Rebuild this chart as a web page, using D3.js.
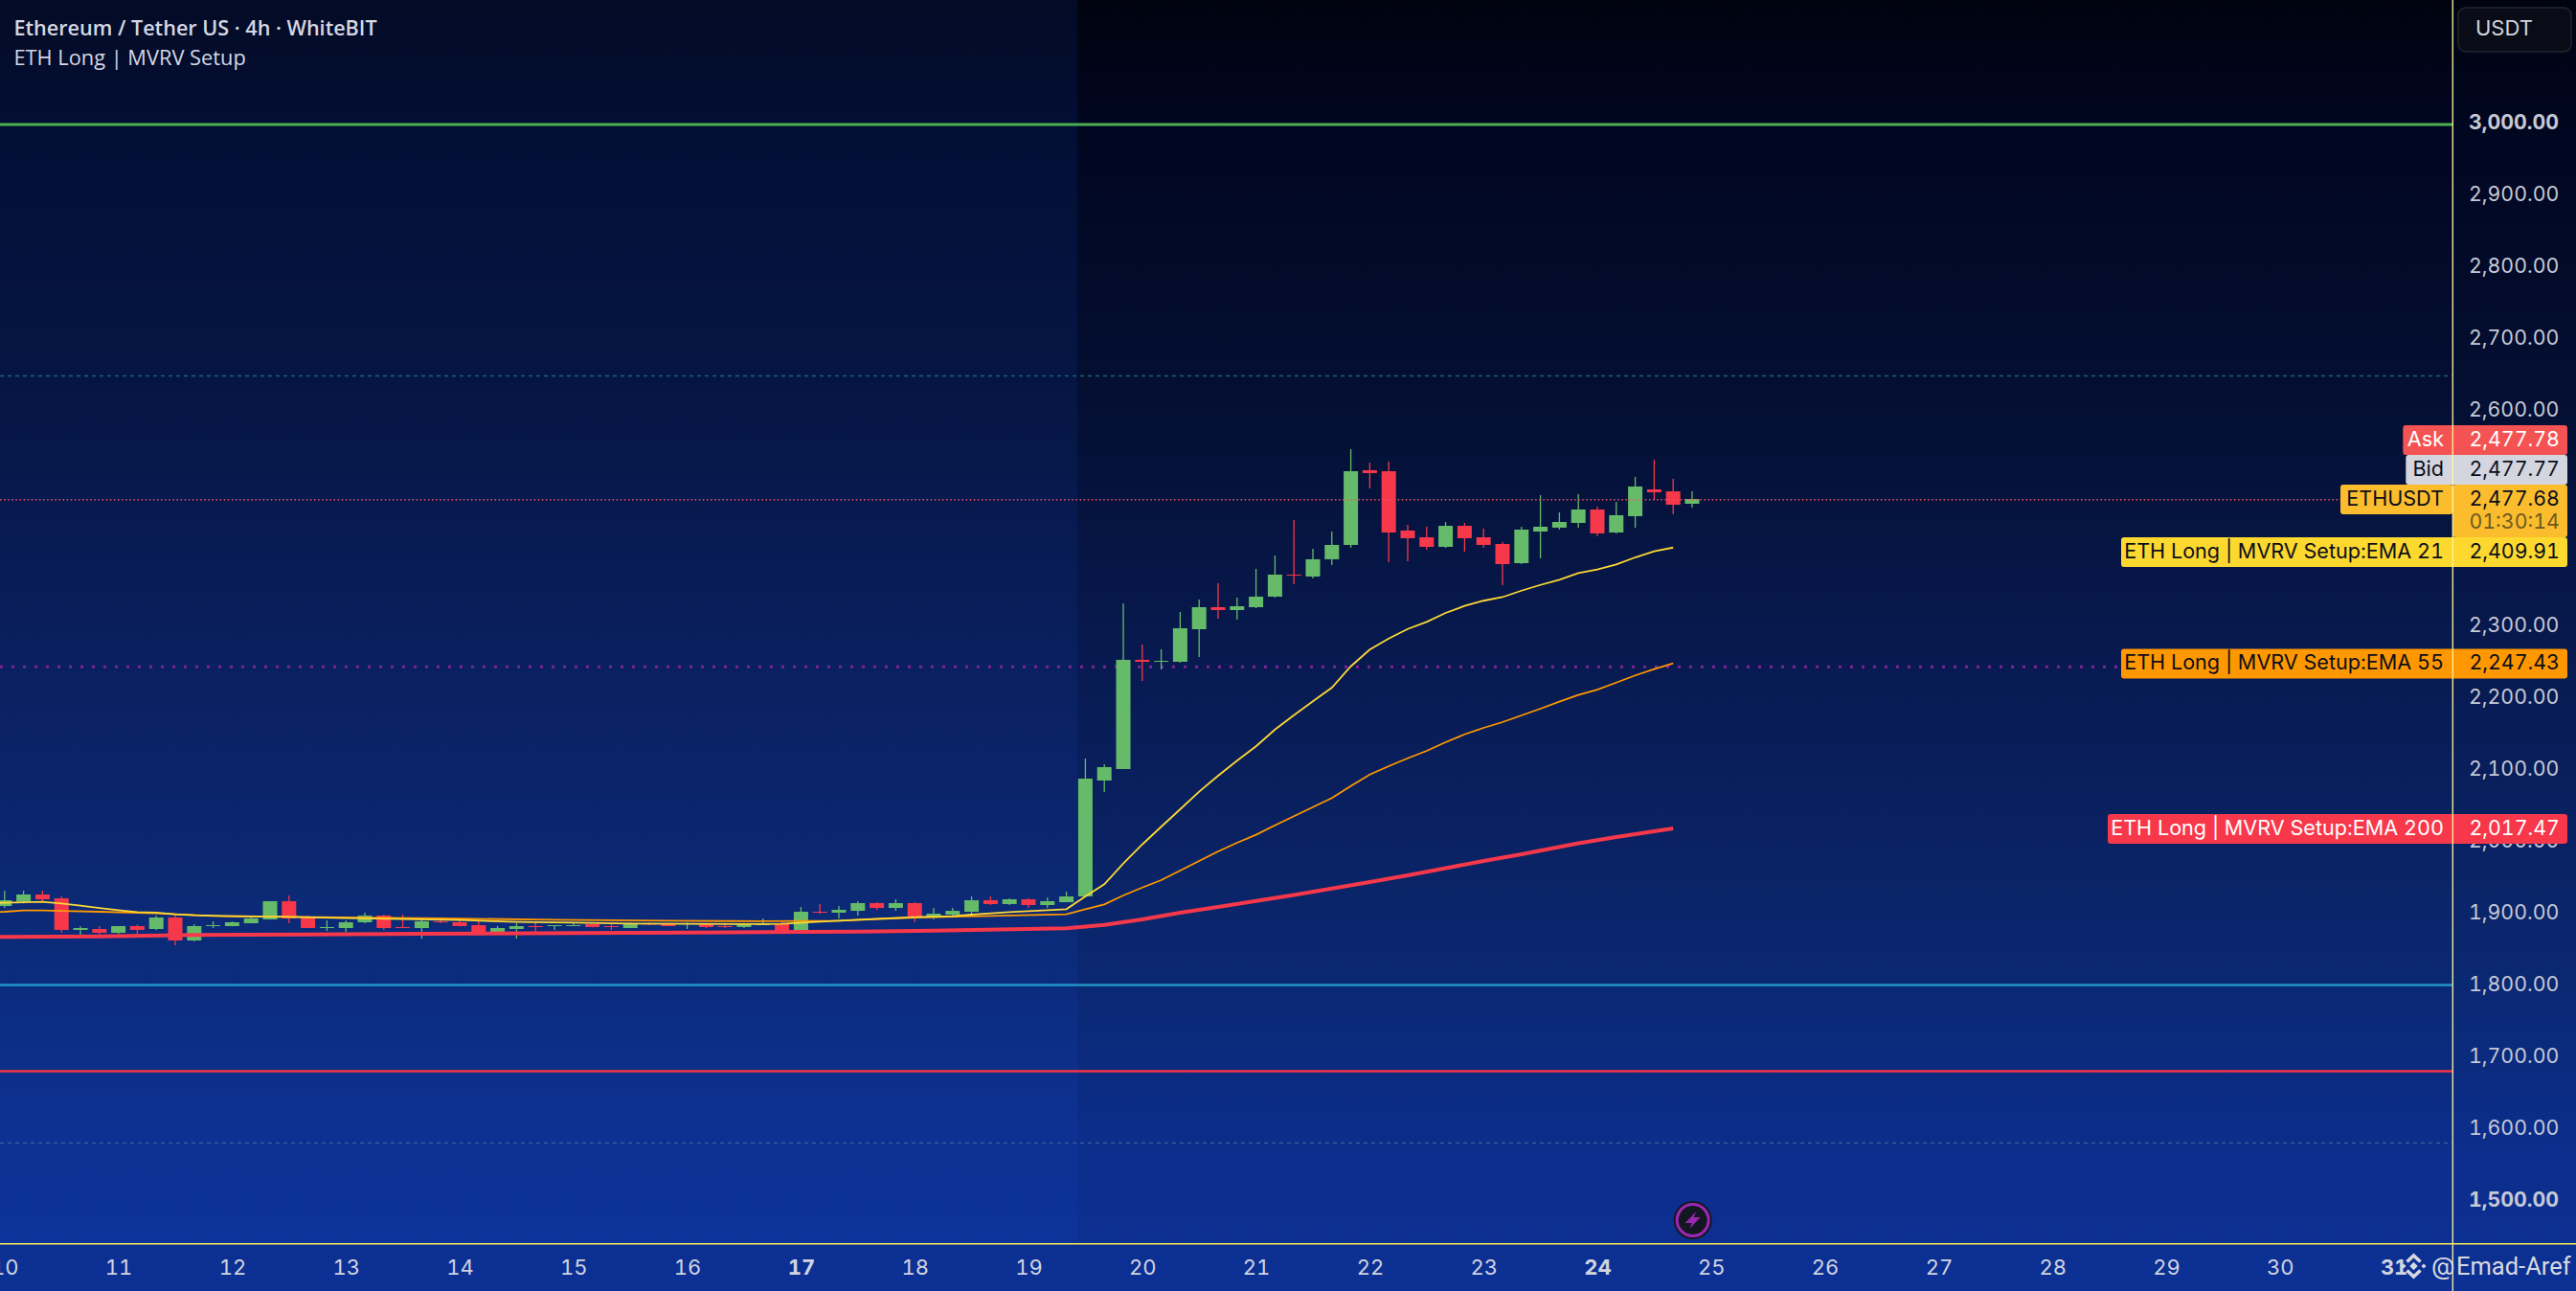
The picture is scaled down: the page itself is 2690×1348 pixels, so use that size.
<!DOCTYPE html>
<html><head><meta charset="utf-8">
<script src="https://cdnjs.cloudflare.com/ajax/libs/d3/7.8.5/d3.min.js"></script>
<style>html,body{margin:0;padding:0;background:#00030f;overflow:hidden}svg{display:block}text{font-family:Inter,sans-serif;font-variant-numeric:tabular-nums}</style>
</head><body><div id="chart"></div>
<script>
const opens=[1912,1918.2,1928,1922.7,1878.7,1880,1874.7,1884,1880,1896,1864,1884,1884,1888,1893.3,1918.7,1896,1881.3,1881.3,1889.3,1898.7,1882.7,1881.3,1890.7,1889.3,1885.3,1874.7,1880,1884,1884,1884,1886.7,1884,1881.3,1888,1886.7,1886.7,1886.7,1884,1882.7,1885.3,1888,1877.3,1904,1902.7,1905.3,1916,1909.3,1916,1896,1900,1904,1920,1914.7,1921.3,1913.3,1917.3,1925.3,2086.7,2102.7,2254.7,2252,2252,2297.3,2328,2324,2328,2342.7,2373.3,2370.7,2394.7,2414.7,2518.7,2517.3,2434.7,2425.3,2412,2441.3,2425.3,2416,2389.3,2433.3,2438.7,2445.3,2464,2432,2454.7,2492,2489.3,2472];
const highs=[1933.3,1933.3,1933.3,1925.3,1883.6,1884,1884,1886.2,1898.7,1898.7,1886.7,1890.7,1890.7,1896.4,1918.7,1926.7,1898.7,1892,1892,1902.7,1900,1900,1894.7,1896,1894.2,1891.6,1884,1888.4,1890.2,1885.3,1889.3,1886.7,1886.7,1889.3,1888.9,1888.4,1888.9,1886.7,1886.7,1888,1894.7,1890.7,1910.7,1914.7,1912,1918.7,1917.3,1921.3,1917.3,1909.3,1909.3,1925.3,1925.3,1922.7,1922.7,1924,1932,2117.3,2109.3,2333.3,2276,2269.3,2321.3,2338.7,2361.3,2341.3,2381.3,2400,2449.3,2409.3,2433.3,2548,2529.3,2530.7,2442.7,2440,2446.7,2445.3,2437.3,2418.7,2440,2484,2460,2485.3,2468,2474.7,2509.3,2533.3,2506.7,2489.3];
const lows=[1909.3,1915.6,1917.8,1874.7,1870.7,1872.4,1872.9,1872.4,1878.2,1857.3,1862.7,1881.3,1883.6,1887.6,1892.9,1888,1881.3,1877.3,1876,1888,1878.7,1881.3,1866.7,1888,1883.6,1875.6,1872,1866.7,1876,1878.7,1884,1882.2,1878.7,1881.3,1885.3,1884,1880,1881.3,1881.3,1881.3,1885.3,1876,1876,1901.3,1894.7,1898.7,1906.7,1905.3,1889.3,1893.3,1896.9,1897.3,1913.3,1913.3,1909.3,1909.3,1917.3,1925.3,2070.7,2102.7,2225.3,2241.3,2250.7,2258.7,2312,2310.7,2326.7,2341.3,2360,2368,2386.7,2410.7,2493.3,2390.7,2392,2408,2410.7,2405.3,2410.7,2358.7,2388,2396,2436,2438.7,2426.7,2430.7,2438.7,2477.3,2457.3,2466.7];
const closes=[1920,1928,1921.3,1878.7,1881.3,1874.7,1884,1878.7,1896,1864,1884,1885.3,1889.3,1894.7,1918.7,1894.7,1881.3,1882.7,1889.3,1898.7,1881.3,1881.3,1890.7,1889.3,1884,1876,1881.3,1884,1882.7,1885.3,1885.3,1882.7,1882.7,1888,1886.2,1884,1888,1882.7,1882.7,1886.7,1888,1877.3,1904,1902.7,1906.7,1916,1909.3,1916,1896,1901.3,1905.3,1920,1914.7,1921.3,1913.3,1918.7,1925.3,2089.3,2105.3,2254.7,2252,2253.3,2298.7,2328,2324,2329.3,2342.7,2373.3,2372,2394.7,2414.7,2517.3,2514.7,2432,2424,2412,2441.3,2424,2414.7,2388,2436,2440,2446.7,2464,2430.7,2456,2496,2488,2470.7,2478.7];

const ema21Idx=[-1,0,1,2,3,4,5,6,7,8,9,10,12,15,18,21,24,27,30,33,36,39,41,43,44,46,48,50,51,53,56,57,58,59,60,61,62,63,64,65,66,67,68,69,70,71,72,73,74,75,76,77,78,79,80,81,82,83,84,85,86,87,88];
const ema21=[1916,1916.4,1917.3,1917.8,1915.6,1912.4,1909.3,1906.2,1903.6,1902.7,1900.4,1899.1,1897.8,1896.9,1895.1,1893.8,1892.4,1889.8,1888.9,1887.6,1887.1,1886.7,1887.1,1890.2,1891.6,1894.2,1896.4,1897.8,1900,1903.6,1907.6,1925.3,1942.3,1971.1,1997.7,2022.3,2046.7,2071.1,2093.3,2114.3,2134.3,2157.7,2177.7,2197,2216,2245.7,2269,2284.4,2297.7,2307.6,2320,2329.7,2337,2342,2351,2359,2366.3,2375.6,2380.4,2387.6,2397.3,2405.7,2411];
const ema55Idx=[-1,0,1,2,3,5,8,9,11,14,20,23,29,35,40,42,44,48,52,56,57,58,59,60,61,62,63,64,65,66,67,68,69,70,71,72,73,74,75,76,77,78,79,80,81,82,83,84,85,86,87,88];
const ema55=[1903.8,1904,1905.8,1905.8,1905.3,1904,1901.8,1900.4,1898.2,1897.3,1895.6,1894.7,1892.9,1891.6,1890.7,1891.1,1891.6,1896,1898.2,1900.4,1907.6,1914.3,1926.7,1937.7,1948,1961.3,1974.7,1988,2000,2011.1,2024.4,2037,2049.7,2062.3,2079,2095,2106.7,2117.7,2128,2140,2151,2160,2168,2177.3,2186.7,2196.4,2205.7,2213.3,2223,2233,2241.7,2249.7];
const ema200Idx=[-1,0,5,10,16,22,30,36,42,45,49,56,58,60,62,64,66,68,70,72,74,76,78,80,83,85,88];
const ema200=[1868.7,1868.9,1869.8,1871.6,1872.4,1873.3,1874.2,1875.1,1876,1876.4,1877.8,1880.9,1885.8,1893.3,1902.7,1910.7,1919.1,1927.3,1936.4,1945.3,1954.7,1964.7,1974.7,1984,1999.3,2008,2020];

const priceTicks=[3000,2900,2800,2700,2600,2300,2200,2100,2000,1900,1800,1700,1600,1500];
const boldPrices=[3000,1500];
const dayTicks=[10,11,12,13,14,15,16,17,18,19,20,21,22,23,24,25,26,27,28,29,30,31];
const boldDays=[17,24,31];
const solidLevels=[3000,1802,1682];
const solidColors=["#4caf50","#2196c9","#f23645"];
const solidWidths=[3,2.6,2.6];
const dashedLevels=[2650,1582];
const dashedColors=["#17636f","#3a5a96"];
const emaLevel=2245, lastPrice=2477.68;
const titleLine="Ethereum / Tether US · 4h · WhiteBIT", subtitleLine="ETH Long | MVRV Setup";

const W=2690,H=1348,axisX=2561.3,axisY=1298.7;
const x=d3.scaleLinear().domain([0,1]).range([4.8,24.6]);
const y=d3.scaleLinear().domain([3000,1500]).range([130,1255]);
const svg=d3.select("#chart").append("svg").attr("width",W).attr("height",H).attr("viewBox",`0 0 ${W} ${H}`);
const defs=svg.append("defs");
const grad=defs.append("linearGradient").attr("id","bg").attr("x1",0).attr("x2",0).attr("y1",0).attr("y2",1);
[[0,"#00030f"],[130,"#010620"],[450,"#041035"],[650,"#07184c"],[880,"#0a2263"],[1000,"#0a276f"],[1200,"#0c2e8c"],[1348,"#0c3094"]]
 .forEach(s=>grad.append("stop").attr("offset",s[0]/H).attr("stop-color",s[1]));
svg.append("rect").attr("width",W).attr("height",H).attr("fill","url(#bg)");
svg.append("rect").attr("width",1125).attr("height",axisY).attr("fill","rgba(25,80,220,0.11)");

// horizontal levels
svg.selectAll(".solid").data(solidLevels).join("line").attr("x1",0).attr("x2",axisX)
 .attr("y1",d=>y(d)).attr("y2",d=>y(d)).attr("stroke",(d,i)=>solidColors[i]).attr("stroke-width",(d,i)=>solidWidths[i]);
svg.selectAll(".dash").data(dashedLevels).join("line").attr("x1",0).attr("x2",axisX)
 .attr("y1",d=>y(d)).attr("y2",d=>y(d)).attr("stroke",(d,i)=>dashedColors[i]).attr("stroke-width",1.3).attr("stroke-dasharray","4 4");
svg.append("line").attr("x1",0).attr("x2",axisX).attr("y1",y(emaLevel)).attr("y2",y(emaLevel))
 .attr("stroke","#7e2297").attr("stroke-width",3).attr("stroke-dasharray","3 9");

const lineOf=(idx,vals)=>d3.line().x((d,i)=>x(idx[i])).y(d=>y(d))(vals);
// candles
const g=svg.append("g");
const isUp=i=>closes[i]>=opens[i];
const col=i=>isUp(i)?"#66bb6a":"#f7384b";
const ids=d3.range(opens.length);
g.selectAll(".wick").data(ids).join("line").attr("x1",i=>x(i)).attr("x2",i=>x(i))
 .attr("y1",i=>y(highs[i])).attr("y2",i=>y(lows[i])).attr("stroke",col).attr("stroke-width",1.3);
g.selectAll(".body").data(ids).join("rect").attr("x",i=>x(i)-7.5).attr("width",15)
 .attr("y",i=>y(Math.max(opens[i],closes[i])))
 .attr("height",i=>Math.max(1,Math.abs(y(opens[i])-y(closes[i])))).attr("fill",col);

svg.append("path").attr("d",lineOf(ema55Idx,ema55)).attr("fill","none").attr("stroke","#ff9800").attr("stroke-width",1.8);
svg.append("path").attr("d",lineOf(ema21Idx,ema21)).attr("fill","none").attr("stroke","#fdd835").attr("stroke-width",1.8);
svg.append("path").attr("d",lineOf(ema200Idx,ema200)).attr("fill","none").attr("stroke","#f7384b").attr("stroke-width",4);

// last price dotted
svg.append("line").attr("x1",0).attr("x2",2444).attr("y1",y(lastPrice)).attr("y2",y(lastPrice))
 .attr("stroke","#f2525f").attr("stroke-width",1.3).attr("stroke-dasharray","1.5 2.6");

// price axis
const pa=svg.append("g").attr("transform",`translate(2570,0)`)
 .call(d3.axisRight(y).tickValues(priceTicks).tickSize(0).tickPadding(8).tickFormat(d3.format(",.2f")));
pa.select(".domain").remove();
pa.selectAll("text").attr("font-size",21.3).attr("font-family","Inter").attr("fill","#c6c9d6").attr("dy","0.22em")
 .attr("font-weight",d=>boldPrices.includes(d)?700:400);

// time axis
const xa=svg.append("g").attr("transform",`translate(0,${axisY})`)
 .call(d3.axisBottom(d3.scaleLinear().domain([10,11]).range([x(0),x(6)])).tickValues(dayTicks).tickSize(0).tickPadding(17).tickFormat(d3.format("d")));
xa.select(".domain").remove();
xa.selectAll("text").attr("font-size",22).attr("font-family","Inter").attr("fill","#d1d4e0")
 .attr("font-weight",d=>boldDays.includes(d)?700:400);

// axis frame
svg.append("line").attr("x1",0).attr("x2",W).attr("y1",axisY).attr("y2",axisY).attr("stroke","#ffee58").attr("stroke-width",1.5);

// price labels
const labelNames=["Ask","Bid","ETHUSDT","ETH Long | MVRV Setup:EMA 21","ETH Long | MVRV Setup:EMA 55","ETH Long | MVRV Setup:EMA 200"];
const labelPrices=["2,477.78","2,477.77","2,477.68","2,409.91","2,247.43","2,017.47"];
const labelFill=["#f35353","#d4d5de","#fbbd2d","#fdd82e","#ff9800","#f7384b"];
const labelInk=["#ffffff","#0b0e1c","#0b0e1c","#0b0e1c","#0b0e1c","#ffffff"];
const labelBox=[[2509.3,444,31],[2512.3,475,31],[2444,506,31],[2215,561,31],[2215,677.5,31],[2201,850,31]];
const lab=svg.append("g");
labelNames.forEach((n,i)=>{
  const b=labelBox[i];
  lab.append("rect").attr("x",b[0]).attr("y",b[1]).attr("width",(i==2?axisX:2681)-b[0]).attr("height",b[2]).attr("rx",3).attr("fill",labelFill[i]);
  lab.append("text").attr("x",2552).attr("y",b[1]+b[2]/2+6.3).attr("text-anchor","end").attr("font-size",21.6).attr("fill",labelInk[i]).text(n);
  if(i!=2) lab.append("text").attr("x",2578.5).attr("y",b[1]+b[2]/2+6.3).attr("font-size",21.3).attr("fill",labelInk[i]).text(labelPrices[i]);
});
lab.append("rect").attr("x",axisX).attr("y",506).attr("width",2681-axisX).attr("height",55).attr("rx",3).attr("fill","#fbbd2d");
lab.append("text").attr("x",2578.5).attr("y",528).attr("font-size",21.3).attr("fill","#0b0e1c").text(labelPrices[2]);
lab.append("text").attr("x",2578.5).attr("y",552).attr("font-size",21.3).attr("fill","#6e5a1e").text("01:30:14");

svg.append("line").attr("x1",axisX).attr("x2",axisX).attr("y1",0).attr("y2",H).attr("stroke","#fff59d").attr("stroke-width",1.3);

// USDT button
svg.append("rect").attr("x",2567).attr("y",8).attr("width",118).attr("height",46).attr("rx",8).attr("fill","#090c17").attr("stroke","#22262f").attr("stroke-width",1.5);
svg.append("text").attr("x",2585).attr("y",37).attr("font-size",22).attr("fill","#d1d4dc").text("USDT");

// title
svg.append("text").attr("x",14.5).attr("y",36.5).attr("font-size",21.6).attr("font-weight",600).attr("fill","#d5d7e3").style("font-family","'Open Sans'").text(titleLine);
svg.append("text").attr("x",14.5).attr("y",67.5).attr("font-size",21.8).attr("fill","#d5d7e3").style("font-family","'Open Sans'").text(subtitleLine);

// lightning marker
const m=svg.append("g").attr("transform",`translate(${x(89)+0.7},1274)`);
m.append("circle").attr("r",20).attr("fill","#131722");
m.append("circle").attr("r",16.5).attr("fill","none").attr("stroke","#9c27b0").attr("stroke-width",3);
m.append("path").attr("d","M3.5,-9 L-8,3 L-1,3 L-3.5,9 L8,-3 L1,-3 Z").attr("fill","#9c27b0");

// watermark
const wm=svg.append("g").attr("transform","translate(2520.5,1322)").attr("fill","#d8d9e0");
wm.append("path").attr("d","M-7,-4.5 L0,-11 L7,-4.5").attr("fill","none").attr("stroke","#d8d9e0").attr("stroke-width",3.6);
wm.append("path").attr("d","M-7,4.5 L0,11 L7,4.5").attr("fill","none").attr("stroke","#d8d9e0").attr("stroke-width",3.6);
wm.append("rect").attr("x",-3).attr("y",-3).attr("width",6).attr("height",6).attr("transform","rotate(45)");
wm.append("rect").attr("x",-12.3).attr("y",-1.8).attr("width",3.6).attr("height",3.6).attr("transform","rotate(45 -10.5 0)");
wm.append("rect").attr("x",8.7).attr("y",-1.8).attr("width",3.6).attr("height",3.6).attr("transform","rotate(45 10.5 0)");
svg.append("text").attr("x",2539).attr("y",1331).attr("font-size",25.5).attr("fill","#d8d9e0").text("@");
svg.append("text").attr("x",2565).attr("y",1331).attr("font-size",25.5).attr("fill","#d8d9e0").style("font-family","Roboto").text("Emad-Aref");
</script></body></html>
